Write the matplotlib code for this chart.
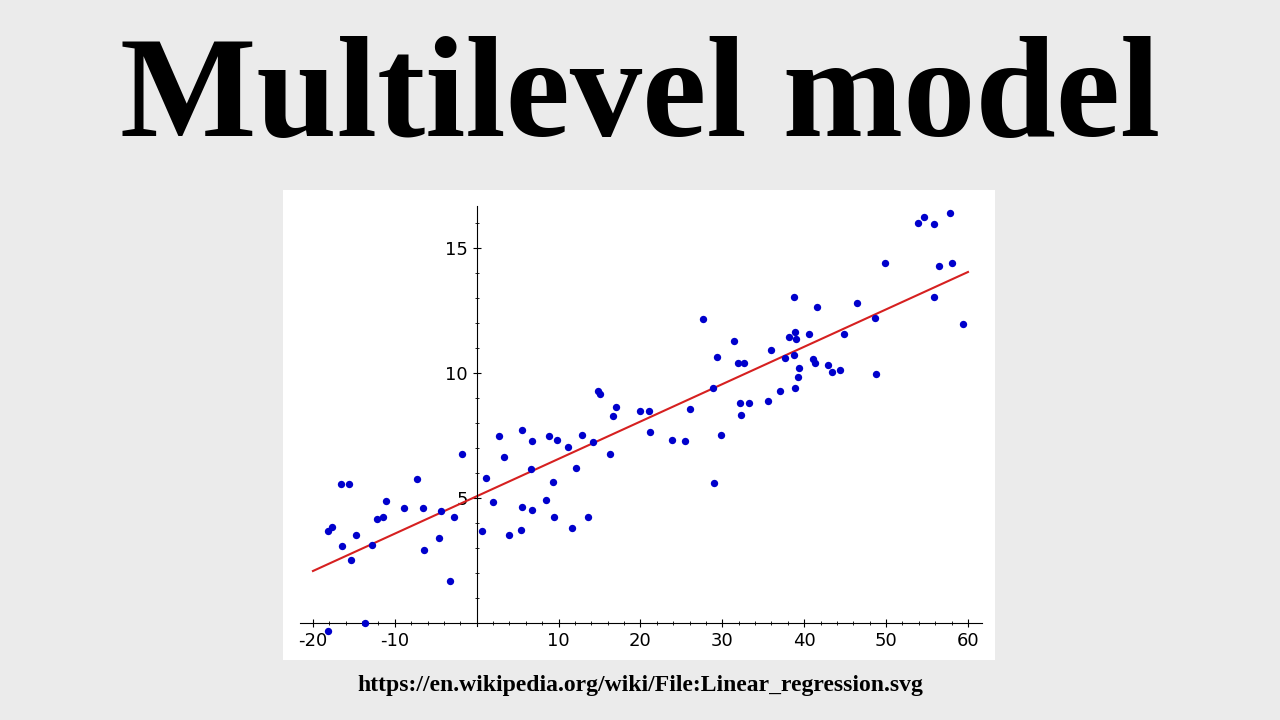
import numpy as np
import matplotlib.pyplot as plt
from matplotlib.ticker import FixedLocator

plt.rcParams['axes.unicode_minus'] = False

# scatter values
xs = [-18.2, -18.2, -17.7, -16.6, -15.6, -16.5, -15.4, -14.7, -13.7, -12.8, -12.2, -11.4, -11.1,
      -8.9, -7.3, -6.6, -6.5, -4.6, -4.4, -3.3, -2.8, -1.8, 0.6, 1.1, 2.0, 2.7, 3.3, 3.9, 5.4, 5.5,
      5.5, 6.6, 6.7, 6.7, 8.5, 8.8, 9.3, 9.4, 9.8, 11.2, 11.6, 12.1, 12.8, 13.6, 14.2, 14.8, 15.1,
      16.3, 16.6, 17.0, 20.0, 21.0, 21.2, 23.9, 25.4, 26.0, 27.6, 28.8, 29.0, 29.3, 29.8, 31.4,
      31.9, 32.1, 32.3, 32.7, 33.2, 35.6, 36.0, 37.0, 37.7, 38.2, 38.7, 38.7, 38.9, 38.9, 39.0,
      39.2, 39.4, 40.6, 41.1, 41.3, 41.6, 42.9, 43.4, 44.4, 44.8, 46.5, 48.7, 48.8, 49.9, 53.9,
      54.6, 55.9, 55.9, 56.5, 57.8, 58.1, 59.4]
ys = [-0.3, 3.7, 3.85, 5.56, 5.56, 3.08, 2.52, 3.52, 0.0, 3.12, 4.16, 4.24, 4.88,
      4.6, 5.76, 4.6, 2.92, 3.4, 4.48, 1.68, 4.24, 6.76, 3.68, 5.8, 4.84, 7.48, 6.64, 3.52, 3.72, 4.64,
      7.72, 6.16, 4.52, 7.28, 4.92, 7.48, 5.64, 4.24, 7.32, 7.04, 3.8, 6.2, 7.52, 4.24, 7.24, 9.28, 9.16,
      6.76, 8.28, 8.64, 8.48, 8.48, 7.64, 7.32, 7.28, 8.56, 12.16, 9.4, 5.6, 10.64, 7.52, 11.28,
      10.4, 8.8, 8.32, 10.4, 8.8, 8.88, 10.92, 9.28, 10.6, 11.44, 13.04, 10.72, 11.64, 9.4, 11.36,
      9.84, 10.2, 11.56, 10.56, 10.4, 12.64, 10.32, 10.04, 10.12, 11.56, 12.8, 12.2, 9.96, 14.4, 16.0,
      16.24, 15.96, 13.04, 14.28, 16.4, 14.4, 11.96]
line_x = [-20, 60]
line_y = [2.08, 14.04]
x_major = [-20, -10, 10, 20, 30, 40, 50, 60]
y_major = [5, 10, 15]

W, H = 1280, 720
fig = plt.figure(figsize=(12.8, 7.2), dpi=100, facecolor='#ebebeb')

fig.text(0.5, 1 - 102 / H, 'Multilevel model', ha='center', va='center',
         family='Liberation Serif', weight='bold', fontsize=104)
fig.text(0.5, 1 - 685 / H, 'https://en.wikipedia.org/wiki/File:Linear_regression.svg',
         ha='center', va='center', family='Liberation Serif', weight='bold', fontsize=17)

ax = fig.add_axes([283 / W, 1 - 660 / H, (995 - 283) / W, (660 - 190) / H])
ax.set_facecolor('white')
ax.set_xlim(-23.66, 63.3)
ax.set_ylim(-1.48, 17.32)

ax.plot(line_x, line_y, color='#d62020', lw=1.5, zorder=2)
ax.scatter(xs, ys, s=28, color='#0000cc', zorder=3, linewidths=0)

for s in ['top', 'right']:
    ax.spines[s].set_visible(False)
ax.spines['left'].set_position(('data', 0))
ax.spines['bottom'].set_position(('data', 0))
ax.spines['left'].set_bounds(-0.1, 16.7)
ax.spines['bottom'].set_bounds(-21.6, 61.7)
ax.set_xticks(x_major)
ax.set_yticks(y_major)
ax.xaxis.set_minor_locator(FixedLocator(list(range(-20, 61, 2))))
ax.yaxis.set_minor_locator(FixedLocator(list(range(1, 17))))
ax.tick_params(which='major', length=6, labelsize=13, direction='inout')
ax.tick_params(which='minor', length=3, direction='inout')

fig.savefig('out.png', dpi=100, facecolor=fig.get_facecolor())
